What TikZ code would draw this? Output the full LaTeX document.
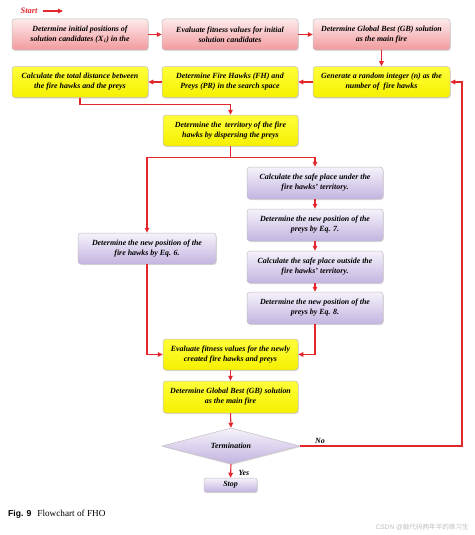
\documentclass[tikz,border=0pt]{standalone}
\usepackage{fontspec}
\setmainfont{Liberation Serif}
\newfontfamily\capsans{Liberation Sans}
\newfontfamily\cjk{Noto Sans CJK SC}
\usetikzlibrary{arrows.meta,shapes.geometric,shadows}
\definecolor{linered}{HTML}{E3262B}
\definecolor{pinktop}{HTML}{FDEAEA}
\definecolor{pinkbot}{HTML}{F29A9D}
\definecolor{yeltop}{HTML}{FFFF3A}
\definecolor{yelbot}{HTML}{F5F000}
\definecolor{purtop}{HTML}{F6F2FB}
\definecolor{purbot}{HTML}{C3B4E0}
\definecolor{boxedge}{HTML}{C4BEC4}
\begin{document}
\begin{tikzpicture}[x=1pt,y=-1pt,
  txt/.style={font=\fontsize{7.9}{10}\selectfont\bfseries\itshape, text=black, align=center},
  basebox/.style={txt, rounded corners=3pt, draw=boxedge, line width=0.5pt,
    minimum width=136pt, minimum height=31pt, inner sep=1pt,
    drop shadow={shadow xshift=0.8pt, shadow yshift=-1pt, opacity=0.25}},
  pinkbox/.style={basebox, top color=pinktop, bottom color=pinkbot},
  yelbox/.style={basebox, top color=yeltop, bottom color=yelbot},
  purbox/.style={basebox, top color=purtop, bottom color=purbot},
  conn/.style={draw=linered, line width=1.1pt, -{Triangle[length=5pt,width=4.6pt]}},
  lbl/.style={font=\fontsize{7.9}{9}\selectfont\bfseries\itshape, text=black}
]
\useasboundingbox (0,0) rectangle (474,535);
\fill[white] (0,0) rectangle (474,535);

% start
\node[font=\fontsize{8.4}{9}\selectfont\bfseries\itshape, text=linered] (start) at (29,11) {Start};
\coordinate (starta) at (43,11);
\coordinate (startb) at (63,11);
\draw[conn] (starta) -- (startb);

% row 1
\node[pinkbox] (b1) at (80,34.5) {Determine initial positions of\\solution candidates (X\textsubscript{\,i}) in the};
\node[pinkbox] (b2) at (230,34.5) {Evaluate fitness values for initial\\solution candidates};
\node[pinkbox, minimum width=137pt] (b3) at (381.5,34.5) {Determine Global Best (GB) solution\\as the main fire};
% row 2
\node[yelbox] (b4) at (80,82) {Calculate the total distance between\\the fire hawks and the preys};
\node[yelbox] (b5) at (230,82) {Determine Fire Hawks (FH) and\\Preys (PR) in the search space};
\node[yelbox, minimum width=137pt] (b6) at (381.5,82) {Generate a random integer (n) as the\\number of\ \ fire hawks};
% territory
\node[yelbox, minimum width=135pt] (b7) at (230.5,130.5) {Determine the\ \ territory of the fire\\hawks by dispersing the preys};
% left branch
\node[purbox, minimum width=138pt] (b8) at (147,248.5) {Determine the new position of the\\fire hawks by Eq. 6.};
% right branch
\node[purbox, minimum height=32pt] (r1) at (315,183) {Calculate the safe place under the\\fire hawks' territory.};
\node[purbox, minimum height=32pt] (r2) at (315,225) {Determine the new position of the\\preys by Eq. 7.};
\node[purbox, minimum height=32pt] (r3) at (315,267) {Calculate the safe place outside the\\fire hawks' territory.};
\node[purbox, minimum height=32pt] (r4) at (315,308) {Determine the new position of the\\preys by Eq. 8.};
% evaluate
\node[yelbox, minimum width=135pt] (e1) at (230.5,354.5) {Evaluate fitness values for the newly\\created fire hawks and preys};
\node[yelbox, minimum width=135pt, minimum height=32pt] (g2) at (230.5,397) {Determine Global Best (GB) solution\\as the main fire};
% termination
\node[txt, diamond, aspect=3.83, minimum width=138pt, minimum height=36pt, inner sep=0pt,
  draw=boxedge, line width=0.5pt, top color=purtop, bottom color=purbot,
  drop shadow={shadow xshift=0.8pt, shadow yshift=-1pt, opacity=0.25}] (dia) at (231,446) {Termination};
\node[purbox, minimum width=53pt, minimum height=14pt, rounded corners=2pt] (stop) at (230.5,485) {Stop};

% connectors
\draw[conn] (b1.east) -- (b2.west);
\draw[conn] (b2.east) -- (b3.west);
\draw[conn] (b3.south) -- (b6.north);
\draw[conn] (b6.west) -- (b5.east);
\draw[conn] (b5.west) -- (b4.east);
\draw[conn] (b4.south) -- ++(0,7) -| (b7.north);
\draw[conn] (b7.south) -- ++(0,11) -| (b8.north);
\draw[conn] (b7.south) -- ++(0,11) -| (r1.north);
\draw[conn] (r1.south) -- (r2.north);
\draw[conn] (r2.south) -- (r3.north);
\draw[conn] (r3.south) -- (r4.north);
\draw[conn] (b8.south) |- (e1.west);
\draw[conn] (r4.south) |- (e1.east);
\draw[conn] (e1.south) -- (g2.north);
\draw[conn] (g2.south) -- (dia.north);
\draw[conn] (dia.south) -- (stop.north);
\coordinate (back) at (462,446);
\draw[conn] (dia.east) -- (back) |- (b6.east);
\node[lbl] (yes) at (244,472.5) {Yes};
\node[lbl] (no) at (320,441) {No};

% caption
\node[anchor=base west, inner sep=0pt] (cap) at (8,516)
  {{\capsans\bfseries\fontsize{8.6}{10}\selectfont Fig. 9}\hspace{6pt}{\fontsize{9.2}{10}\selectfont Flowchart of FHO}};
\node[anchor=base east, inner sep=0pt, text=black!25, font=\fontsize{6.6}{8}\selectfont] (wm) at (469,529)
  {\capsans CSDN @\cjk 敲代码两年半的练习生};
\end{tikzpicture}
\end{document}
